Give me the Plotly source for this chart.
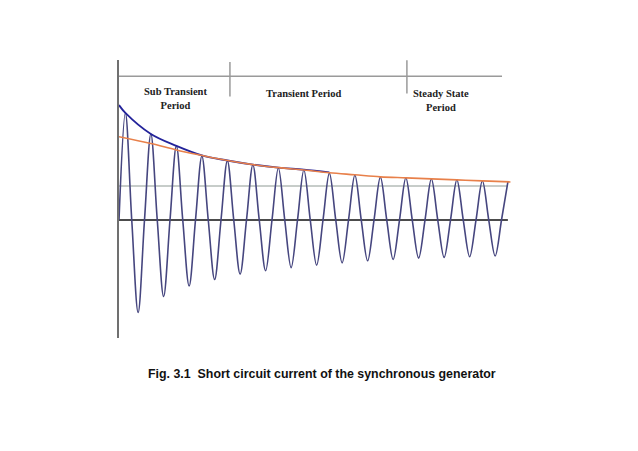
import plotly.graph_objects as go

# time in cycles, current in multiples of the steady-state amplitude
peak_t = [0.25, 1.25, 2.25, 3.25, 4.25, 5.25, 6.25, 7.25, 8.25, 9.25,
          10.25, 11.25, 12.25, 13.25, 14.25, 15.25]
peak_i = [3.15, 2.53, 2.18, 1.88, 1.74, 1.62, 1.53, 1.47, 1.38, 1.32,
          1.26, 1.24, 1.21, 1.18, 1.15, 1.12]
trough_t = [0.75, 1.75, 2.75, 3.75, 4.75, 5.75, 6.75, 7.75, 8.75, 9.75,
            10.75, 11.75, 12.75, 13.75, 14.75]
trough_i = [-2.72, -2.25, -1.94, -1.75, -1.59, -1.49, -1.40, -1.33, -1.26,
            -1.20, -1.16, -1.12, -1.10, -1.08, -1.06]
zero_t = [0.0, 0.5, 1.0, 1.5, 2.0, 2.5, 3.0, 3.5, 4.0, 4.5, 5.0, 5.5, 6.0,
          6.5, 7.0, 7.5, 8.0, 8.5, 9.0, 9.5, 10.0, 10.5, 11.0, 11.5, 12.0,
          12.5, 13.0, 13.5, 14.0, 14.5, 15.0]

subtransient_t = [0.0, 0.25, 1.25, 2.25, 3.25, 4.25, 5.25, 6.25, 7.25, 8.25]
subtransient_i = [3.38, 3.15, 2.53, 2.18, 1.90, 1.75, 1.63, 1.54, 1.48, 1.40]
transient_t = [0.0, 1.25, 2.25, 3.25, 4.25, 5.25, 6.25, 7.25, 8.25, 9.25,
               10.25, 11.25, 12.25, 13.25, 14.25, 15.35]
transient_i = [2.45, 2.25, 2.06, 1.90, 1.75, 1.63, 1.54, 1.47, 1.39, 1.33,
               1.27, 1.24, 1.21, 1.18, 1.15, 1.12]
steady_i = 1.0
end_t = 15.25

periods = ["Sub Transient<br>Period", "Transient Period", "Steady State<br>Period"]
period_t = [2.2, 7.27, 12.63]
period_y = [3.58, 3.73, 3.51]
divider_t = [4.35, 11.29]

# wave table built from the read extremes and crossings
pts = sorted([(t, 0.0) for t in zero_t] + list(zip(peak_t, peak_i)) +
             list(zip(trough_t, trough_i)))
wave_t = [p[0] for p in pts]
wave_i = [p[1] for p in pts]

fig = go.Figure()
fig.add_trace(go.Scatter(x=[0, end_t], y=[steady_i, steady_i], mode='lines',
                         line=dict(color='#8f9a94', width=1), hoverinfo='skip'))
fig.add_trace(go.Scatter(x=[0, end_t], y=[0, 0], mode='lines',
                         line=dict(color='#111111', width=1.6), hoverinfo='skip'))
fig.add_trace(go.Scatter(x=wave_t, y=wave_i, mode='lines',
                         line=dict(color='#46467f', width=1.6, shape='spline',
                                   smoothing=1.0)))
fig.add_trace(go.Scatter(x=subtransient_t, y=subtransient_i, mode='lines',
                         line=dict(color='#23239a', width=1.8, shape='spline')))
fig.add_trace(go.Scatter(x=transient_t, y=transient_i, mode='lines',
                         line=dict(color='#e8804a', width=1.6, shape='spline')))

# header bar with period dividers
fig.add_shape(type='line', x0=0, x1=15.02, y0=4.23, y1=4.23,
              line=dict(color='#9a9a9a', width=1.5))
fig.add_shape(type='line', x0=divider_t[0], x1=divider_t[0], y0=3.63, y1=4.65,
              line=dict(color='#9a9a9a', width=1.5))
fig.add_shape(type='line', x0=divider_t[1], x1=divider_t[1], y0=3.72, y1=4.70,
              line=dict(color='#9a9a9a', width=1.5))

for txt, t, y in zip(periods, period_t, period_y):
    fig.add_annotation(x=t, y=y, text='<b>' + txt + '</b>', showarrow=False,
                       font=dict(family='Liberation Serif', size=10.5, color='#222222'))

fig.add_annotation(x=0.506, y=-0.13, xref='paper', yref='paper',
                   text='<b>Fig. 3.1  Short circuit current of the synchronous generator</b>',
                   showarrow=False, xanchor='center', yanchor='middle',
                   font=dict(family='Liberation Sans', size=12.4, color='#111111'))

# page body adds an 8px offset, so margins are shifted to compensate
fig.update_layout(
    width=638, height=451,
    margin=dict(l=111, r=126, t=52, b=121),
    paper_bgcolor='white', plot_bgcolor='white',
    showlegend=False,
    xaxis=dict(range=[0, 15.725], showgrid=False, zeroline=False,
               showticklabels=False, ticks='', showline=False),
    yaxis=dict(range=[-3.47, 4.706], showgrid=False, zeroline=False,
               showticklabels=False, ticks='', showline=True,
               linecolor='#707070', linewidth=2),
)

fig.write_html("out.html")
